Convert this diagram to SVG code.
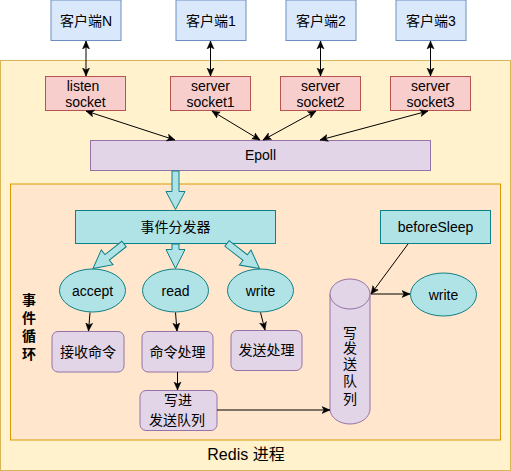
<svg xmlns="http://www.w3.org/2000/svg" width="511" height="471" viewBox="0 0 511 471">
<defs>
<marker id="arr" markerUnits="userSpaceOnUse" markerWidth="9" markerHeight="9" refX="8" refY="4" orient="auto-start-reverse" viewBox="0 0 9 8">
<path d="M0,0.5 L8,4 L0,7.5 L2,4 Z" fill="#000" stroke="#000" stroke-width="0.5"/>
</marker>
</defs>
<style>
text{font-family:"Liberation Sans","Noto Sans CJK SC",sans-serif;font-size:14px;fill:#000;text-anchor:middle}
.client{fill:#dae8fc;stroke:#6c8ebf}
.sock{fill:#f8cecc;stroke:#b85450}
.purple{fill:#e1d5e7;stroke:#9673a6}
.teal{fill:#b0e3e6;stroke:#0e8088}
.line{fill:none;stroke:#000;stroke-width:1}
.big{fill:#b0e3e6;stroke:#0e8088;stroke-width:1}
</style>
<rect width="511" height="471" fill="#fff"/>
<g id="redis-process">
<rect x="0.5" y="60.5" width="510" height="410" fill="#fff2cc" stroke="#d6b656"/>
<text x="246" y="459.5" style="font-size:16px">Redis 进程</text>
</g>
<g id="event-loop">
<rect x="10.5" y="184" width="490" height="256" fill="#ffe6cc" stroke="#d79b00"/>
<text x="29" y="305" style="font-weight:bold">事</text>
<text x="29" y="323" style="font-weight:bold">件</text>
<text x="29" y="341" style="font-weight:bold">循</text>
<text x="29" y="358.5" style="font-weight:bold">环</text>
</g>
<g id="clientN"><rect class="client" x="51" y="0" width="70" height="40.5"/><text x="86" y="25.5">客户端N</text></g>
<g id="client1"><rect class="client" x="176" y="0" width="70" height="40.5"/><text x="211" y="25.5">客户端1</text></g>
<g id="client2"><rect class="client" x="286" y="0" width="70" height="40.5"/><text x="321" y="25.5">客户端2</text></g>
<g id="client3"><rect class="client" x="396" y="0" width="70" height="40.5"/><text x="431" y="25.5">客户端3</text></g>
<g id="listen-socket"><rect class="sock" x="45.5" y="76.5" width="80" height="34"/><text x="83" y="90.5">listen</text><text x="85.5" y="107">socket</text></g>
<g id="server-socket1"><rect class="sock" x="170.5" y="76.5" width="80" height="34"/><text x="210.5" y="90.5">server</text><text x="210.5" y="107">socket1</text></g>
<g id="server-socket2"><rect class="sock" x="280.5" y="76.5" width="80" height="34"/><text x="320.5" y="90.5">server</text><text x="320.5" y="107">socket2</text></g>
<g id="server-socket3"><rect class="sock" x="390.5" y="76.5" width="80" height="34"/><text x="430.5" y="90.5">server</text><text x="430.5" y="107">socket3</text></g>
<g id="epoll"><rect class="purple" x="90.5" y="140.5" width="340" height="30"/><text x="260.5" y="160">Epoll</text></g>
<g id="dispatcher"><rect class="teal" x="75.5" y="210.5" width="200" height="33"/><text x="175.5" y="232">事件分发器</text></g>
<g id="beforeSleep"><rect class="teal" x="380.5" y="210.5" width="110" height="33"/><text x="435.5" y="232">beforeSleep</text></g>
<g id="accept"><ellipse class="teal" cx="92.5" cy="290.5" rx="33" ry="21.5"/><text x="92.5" y="295.5">accept</text></g>
<g id="read"><ellipse class="teal" cx="175.5" cy="290.5" rx="33" ry="21.5"/><text x="175.5" y="295.5">read</text></g>
<g id="write"><ellipse class="teal" cx="260.5" cy="290.5" rx="33" ry="21.5"/><text x="260.5" y="295.5">write</text></g>
<g id="write2"><ellipse class="teal" cx="443.5" cy="294.5" rx="33" ry="21.5"/><text x="443.5" y="299.5">write</text></g>
<g id="recv-cmd"><rect class="purple" x="52" y="331.5" width="72" height="40.5" rx="6"/><text x="88" y="356.5">接收命令</text></g>
<g id="cmd-proc"><rect class="purple" x="142" y="331.5" width="71" height="40.5" rx="6"/><text x="177.5" y="356.5">命令处理</text></g>
<g id="send-proc"><rect class="purple" x="231" y="330.5" width="71" height="40" rx="6"/><text x="266.5" y="355">发送处理</text></g>
<g id="write-queue"><rect class="purple" x="140" y="390.5" width="77" height="40" rx="6"/><text x="178" y="405">写进</text><text x="177" y="424.5">发送队列</text></g>
<g id="send-queue">
<path class="purple" d="M330,294 a20,15 0 0 1 40,0 v115 a20,15 0 0 1 -40,0 z"/>
<path class="purple" d="M330,294 a20,15 0 0 0 40,0" fill="none"/>
<text x="350" y="337.5">写</text>
<text x="350" y="353">发</text>
<text x="350" y="369">送</text>
<text x="350" y="386">队</text>
<text x="350" y="403.5">列</text>
</g>
<g id="connectors">
<polygon class="big" transform="translate(175.5,171) rotate(90)" points="0,-3.5 20.5,-3.5 20.5,-9.5 38.5,0 20.5,9.5 20.5,3.5 0,3.5"/>
<polygon class="big" transform="translate(124,244) rotate(141.7)" points="0,-3.5 21.5,-3.5 21.5,-9.5 39.5,0 21.5,9.5 21.5,3.5 0,3.5"/>
<polygon class="big" transform="translate(175.5,244) rotate(90)" points="0,-3.5 5.5,-3.5 5.5,-9.5 24.5,0 5.5,9.5 5.5,3.5 0,3.5"/>
<polygon class="big" transform="translate(227,243.5) rotate(37.6)" points="0,-3.5 23,-3.5 23,-9.5 41,0 23,9.5 23,3.5 0,3.5"/>
<line class="line" x1="86" y1="41" x2="86" y2="76" marker-start="url(#arr)" marker-end="url(#arr)"/>
<line class="line" x1="210.5" y1="41" x2="210.5" y2="76" marker-start="url(#arr)" marker-end="url(#arr)"/>
<line class="line" x1="320.5" y1="41" x2="320.5" y2="76" marker-start="url(#arr)" marker-end="url(#arr)"/>
<line class="line" x1="430.5" y1="41" x2="430.5" y2="76" marker-start="url(#arr)" marker-end="url(#arr)"/>
<line class="line" x1="86" y1="111" x2="175" y2="140" marker-start="url(#arr)" marker-end="url(#arr)"/>
<line class="line" x1="212" y1="111" x2="260" y2="140" marker-start="url(#arr)" marker-end="url(#arr)"/>
<line class="line" x1="316" y1="111" x2="263" y2="140" marker-start="url(#arr)" marker-end="url(#arr)"/>
<line class="line" x1="428" y1="111" x2="320" y2="140" marker-start="url(#arr)" marker-end="url(#arr)"/>
<line class="line" x1="90" y1="312.5" x2="88.5" y2="331" marker-end="url(#arr)"/>
<line class="line" x1="175.5" y1="312.5" x2="177" y2="331" marker-end="url(#arr)"/>
<line class="line" x1="260.5" y1="312.5" x2="265" y2="330" marker-end="url(#arr)"/>
<line class="line" x1="177.5" y1="372" x2="177.5" y2="390" marker-end="url(#arr)"/>
<line class="line" x1="217" y1="410" x2="330" y2="410" marker-end="url(#arr)"/>
<line class="line" x1="408" y1="244" x2="371" y2="294" marker-end="url(#arr)"/>
<line class="line" x1="371" y1="294" x2="410" y2="294" marker-end="url(#arr)"/>
</g>
</svg>
